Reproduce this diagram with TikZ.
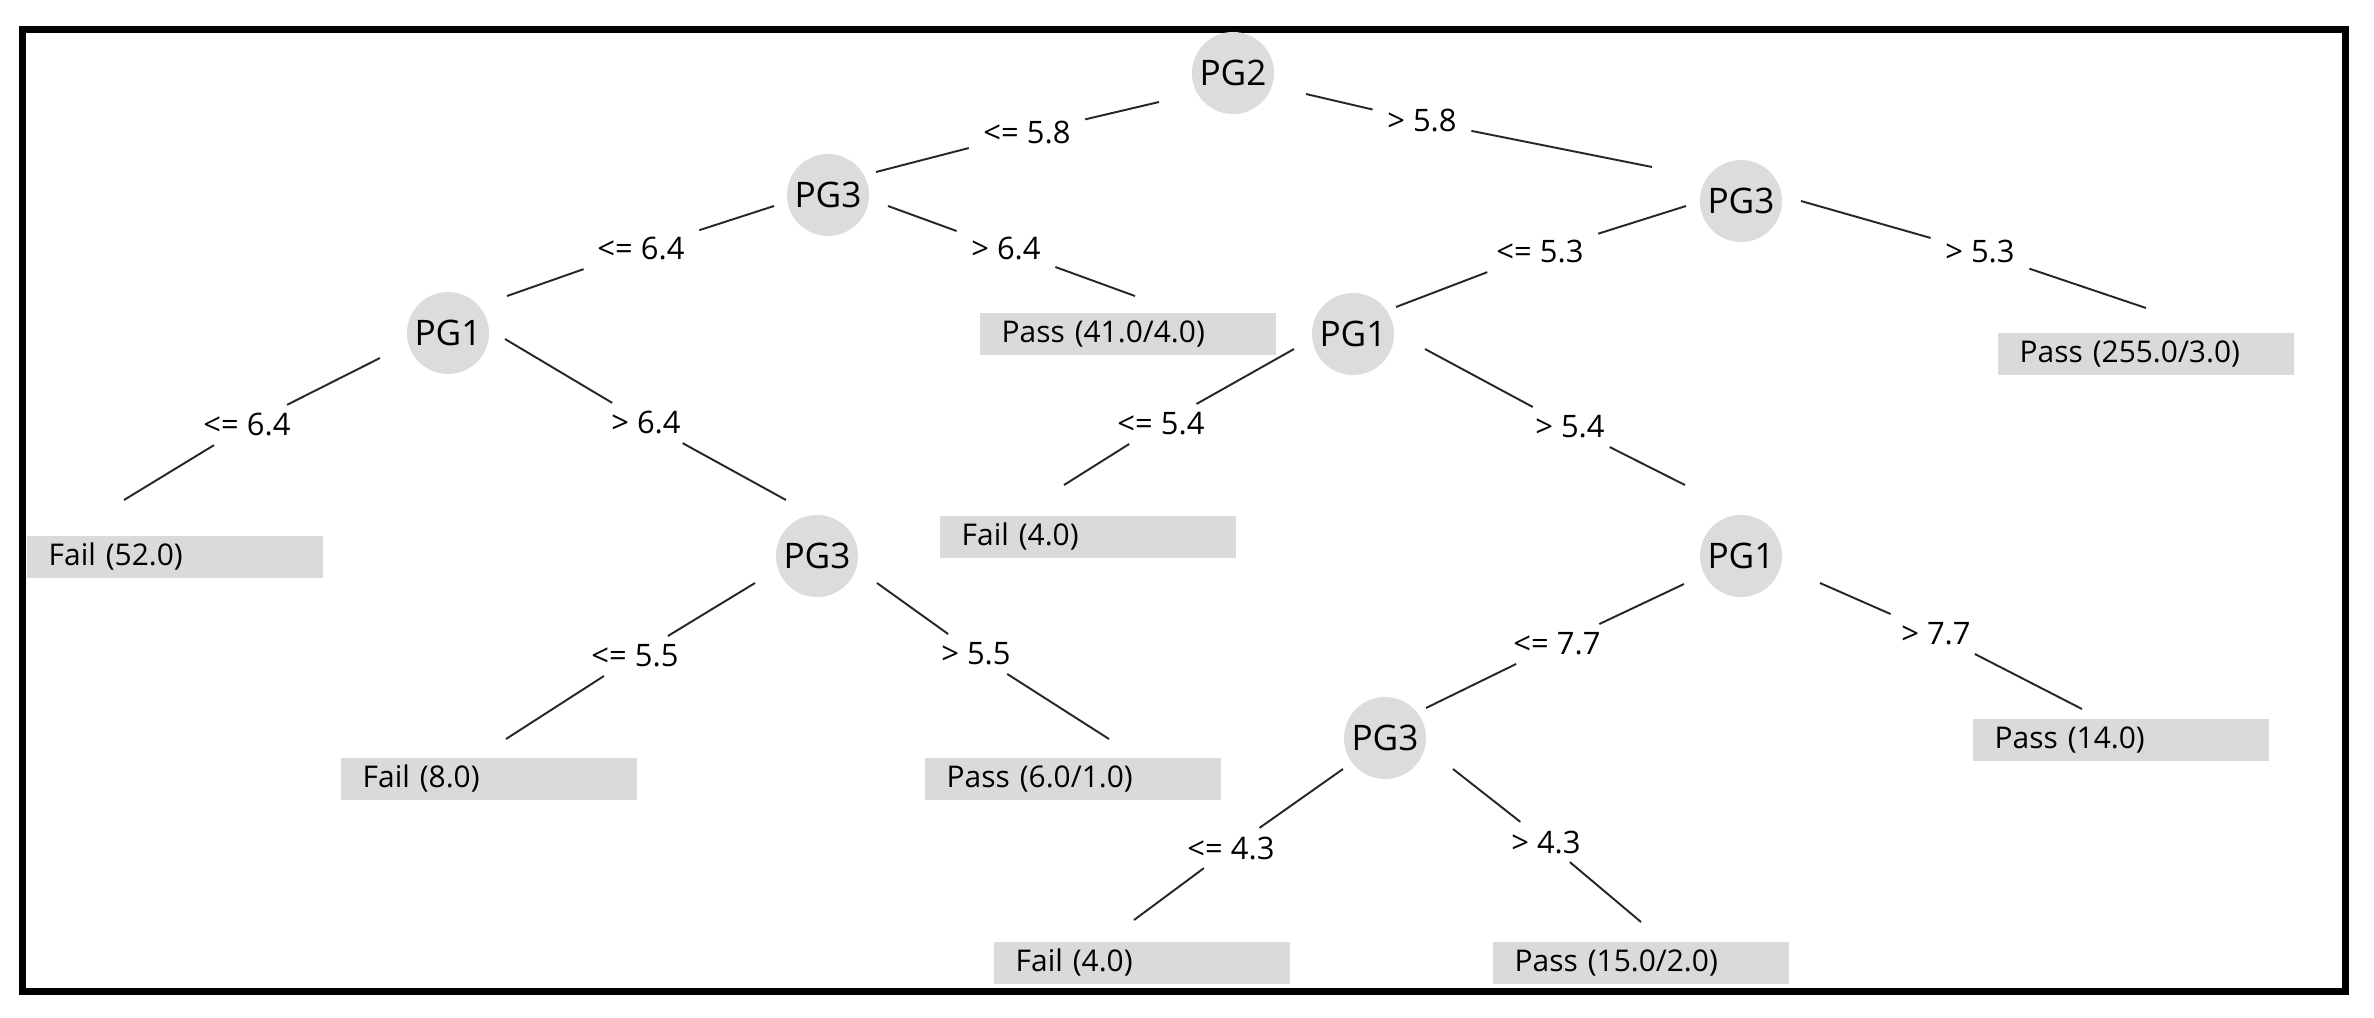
\documentclass[tikz,border=0pt]{standalone}
\usepackage{fontspec}
\setmainfont{Open Sans}
\definecolor{nodegray}{RGB}{220,220,220}
\definecolor{leafgray}{RGB}{218,218,218}
\begin{document}
\begin{tikzpicture}[x=0.01cm,y=-0.01cm,
  inner/.style={circle, fill=nodegray, minimum size=0.82cm, inner sep=0pt, font=\fontsize{10}{12}\selectfont},
  leaf/.style={rectangle, fill=leafgray, anchor=north west, minimum height=0.42cm, text width=2.52cm, inner xsep=0.22cm, inner ysep=0pt, align=left, font=\fontsize{8.5}{10}\selectfont},
  lbl/.style={inner xsep=0.14cm, inner ysep=0.08cm, font=\fontsize{8.8}{10}\selectfont},
  edge/.style={draw=black!85, line width=0.55pt}]
\useasboundingbox (0,0) rectangle (2374,1017);
\draw[line width=7*0.01cm] (22,29) rectangle (2345,991);

% inner nodes
\node[inner] (pg2)  at (1233,73)  {PG2};
\node[inner] (pg3a) at (828,195)  {PG3};
\node[inner] (pg3b) at (1741,201) {PG3};
\node[inner] (pg1a) at (448,333)  {PG1};
\node[inner] (pg1b) at (1353,334) {PG1};
\node[inner] (pg3c) at (817,556)  {PG3};
\node[inner] (pg1c) at (1741,556) {PG1};
\node[inner] (pg3d) at (1385,738) {PG3};

% leaves
\node[leaf] (pass41)  at (979,312)  {Pass (41.0/4.0)};
\node[leaf] (pass255) at (1997,332) {Pass (255.0/3.0)};
\node[leaf] (fail52)  at (26,535)   {Fail (52.0)};
\node[leaf] (fail4a)  at (939,515)  {Fail (4.0)};
\node[leaf] (fail8)   at (340,757)  {Fail (8.0)};
\node[leaf] (pass6)   at (924,757)  {Pass (6.0/1.0)};
\node[leaf] (pass14)  at (1972,718) {Pass (14.0)};
\node[leaf] (fail4b)  at (993,941)  {Fail (4.0)};
\node[leaf] (pass15)  at (1492,941) {Pass (15.0/2.0)};

% edge labels
\node[lbl] (l1)  at (1027,133) {<= 5.8};
\node[lbl] (l2)  at (1422,121) {> 5.8};
\node[lbl] (l3)  at (641,249)  {<= 6.4};
\node[lbl] (l4)  at (1006,249) {> 6.4};
\node[lbl] (l5)  at (247,425)  {<= 6.4};
\node[lbl] (l6)  at (646,423)  {> 6.4};
\node[lbl] (l7)  at (1540,252) {<= 5.3};
\node[lbl] (l8)  at (1980,252) {> 5.3};
\node[lbl] (l9)  at (1161,424) {<= 5.4};
\node[lbl] (l10) at (1570,427) {> 5.4};
\node[lbl] (l11) at (635,656)  {<= 5.5};
\node[lbl] (l12) at (976,654)  {> 5.5};
\node[lbl] (l13) at (1557,644) {<= 7.7};
\node[lbl] (l14) at (1936,634) {> 7.7};
\node[lbl] (l15) at (1231,848) {<= 4.3};
\node[lbl] (l16) at (1546,842) {> 4.3};

% free ends of connectors
\coordinate (e1s) at (1159,102);  \coordinate (e1t) at (876,172);
\coordinate (e2s) at (1306,94);   \coordinate (e2t) at (1652,167);
\coordinate (e3s) at (774,206);   \coordinate (e3t) at (507,296);
\coordinate (e4s) at (888,206);   \coordinate (e4t) at (1135,296);
\coordinate (e5s) at (380,358);   \coordinate (e5t) at (124,500);
\coordinate (e6s) at (505,339);   \coordinate (e6t) at (786,500);
\coordinate (e7s) at (1686,206);  \coordinate (e7t) at (1396,307);
\coordinate (e8s) at (1801,201);  \coordinate (e8t) at (2146,308);
\coordinate (e9s) at (1294,349);  \coordinate (e9t) at (1064,485);
\coordinate (e10s) at (1425,349); \coordinate (e10t) at (1685,485);
\coordinate (e11s) at (755,583);  \coordinate (e11t) at (506,739);
\coordinate (e12s) at (877,583);  \coordinate (e12t) at (1109,739);
\coordinate (e13s) at (1684,584); \coordinate (e13t) at (1426,708);
\coordinate (e14s) at (1820,583); \coordinate (e14t) at (2082,709);
\coordinate (e15s) at (1343,769); \coordinate (e15t) at (1134,920);
\coordinate (e16s) at (1453,769); \coordinate (e16t) at (1641,922);

\foreach \i in {1,...,16}{
  \draw[edge] (e\i s) -- (l\i) -- (e\i t);
}
\end{tikzpicture}
\end{document}
